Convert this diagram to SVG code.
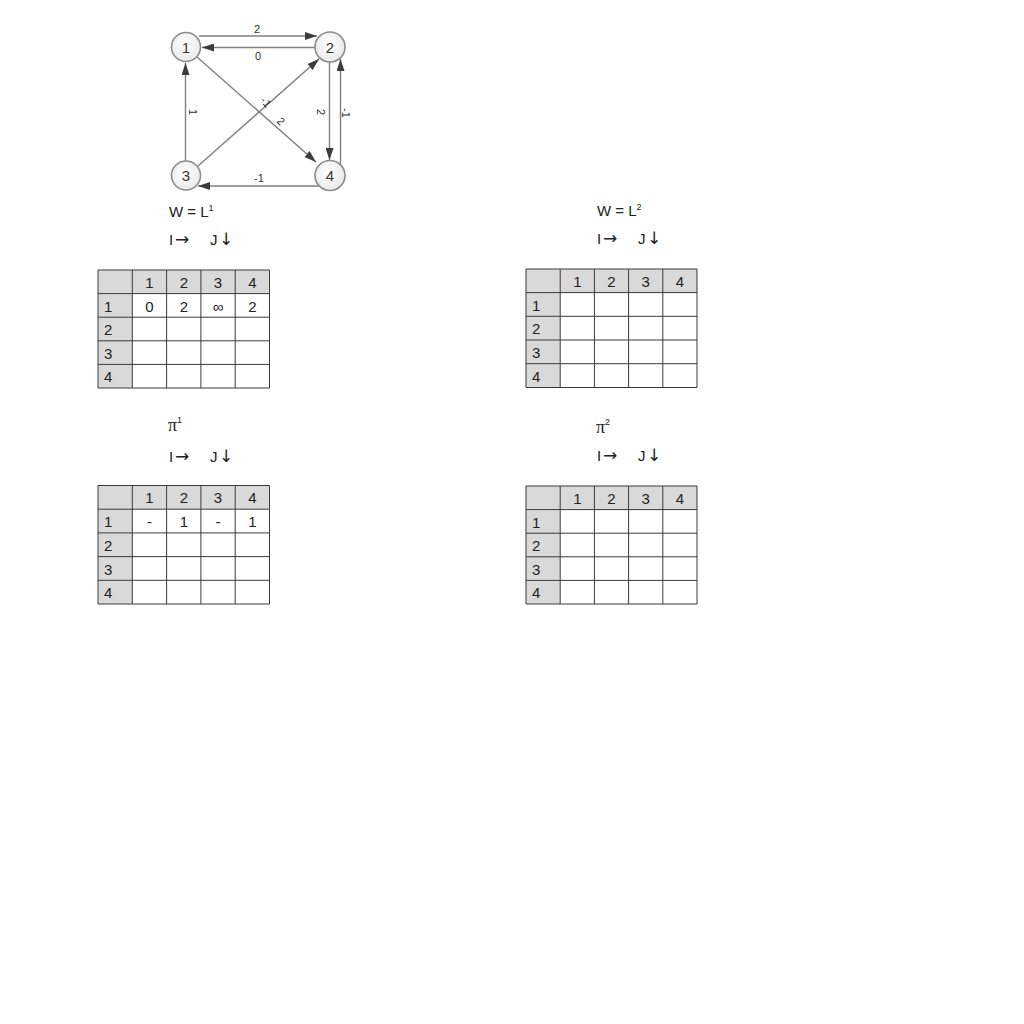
<svg xmlns="http://www.w3.org/2000/svg" width="1024" height="1024" viewBox="0 0 1024 1024">
<defs>
<marker id="ah" viewBox="0 0 12 8" refX="12" refY="4" markerWidth="12" markerHeight="8" markerUnits="userSpaceOnUse" orient="auto">
<path d="M0,0 L12,4 L0,8 Z" fill="#3c3c3c"/>
</marker>
<radialGradient id="ng" cx="0.45" cy="0.4" r="0.7">
<stop offset="0" stop-color="#ffffff"/>
<stop offset="1" stop-color="#e6e6e6"/>
</radialGradient>
</defs>
<style>
.edge{stroke:#808080;stroke-width:1.4;fill:none;marker-end:url(#ah)}
.node circle{fill:url(#ng);stroke:#8c8c8c;stroke-width:1.6}
.nl{font-family:"Liberation Sans",Arial,sans-serif;font-size:15px;fill:#333;text-anchor:middle}
.el{font-family:"Liberation Sans",Arial,sans-serif;font-size:11px;fill:#333;text-anchor:middle}
.lbl{font-family:"Liberation Sans",Arial,sans-serif;font-size:15px;fill:#222}
.ar{font-family:"DejaVu Sans",sans-serif;font-size:17px}
.pi{font-family:"Liberation Serif","Times New Roman",serif;font-size:18px;fill:#222}
.sup{font-size:9px;font-family:"Liberation Sans",Arial,sans-serif}
.hd{fill:#d9d9d9}
.grid{stroke:#3a3a3a;stroke-width:1;fill:none}
.t{font-family:"Liberation Sans",Arial,sans-serif;font-size:15px;fill:#222}
.c{text-anchor:middle}
</style>
<rect width="1024" height="1024" fill="#fff"/>

<g id="connectors">
<line class="edge" x1="199" y1="36" x2="317" y2="36"/>
<line class="edge" x1="316" y1="47.5" x2="202" y2="47.5"/>
<line class="edge" x1="185.5" y1="161" x2="185.5" y2="63"/>
<line class="edge" x1="197" y1="57" x2="316" y2="162"/>
<line class="edge" x1="198" y1="166" x2="319" y2="59"/>
<line class="edge" x1="329.5" y1="62" x2="329.5" y2="160"/>
<line class="edge" x1="340.5" y1="180" x2="340.5" y2="59"/>
<line class="edge" x1="326" y1="186" x2="198" y2="186"/>
<text class="el" x="257" y="33">2</text>
<text class="el" x="258" y="60">0</text>
<text class="el" x="259" y="182">-1</text>
<text class="el" transform="translate(193,112) rotate(90)" y="4">1</text>
<text class="el" transform="translate(321,112) rotate(90)" y="4">2</text>
<text class="el" transform="translate(346,113) rotate(90)" y="4">-1</text>
<text class="el" transform="translate(281,121) rotate(45)" y="4">2</text>
<text class="el" transform="translate(266,102) rotate(50)" y="4">-1</text>
</g>

<g id="node1" class="node"><circle cx="186" cy="47" r="14.5"/><text class="nl" x="186" y="52.5">1</text></g>
<g id="node2" class="node"><circle cx="330" cy="47" r="15"/><text class="nl" x="330" y="52.5">2</text></g>
<g id="node3" class="node"><circle cx="186" cy="175.5" r="14.5"/><text class="nl" x="186" y="181">3</text></g>
<g id="node4" class="node"><circle cx="330" cy="175.5" r="15"/><text class="nl" x="330" y="181">4</text></g>

<g id="label-L1">
<text class="lbl" x="169" y="217">W = L<tspan class="sup" dy="-6">1</tspan></text>
<text class="lbl" y="245"><tspan x="169">I</tspan><tspan class="ar" x="175">→</tspan><tspan x="210">J</tspan><tspan class="ar" x="219">↓</tspan></text>
</g>
<g id="table-L1" transform="translate(98,270)">
<rect class="hd" x="0" y="0" width="171.5" height="23.6"/>
<rect class="hd" x="0" y="0" width="34.3" height="118"/>
<path class="grid" d="M0,0H171.5V118H0Z M34.3,0V118 M68.6,0V118 M102.9,0V118 M137.2,0V118 M0,23.6H171.5 M0,47.2H171.5 M0,70.8H171.5 M0,94.4H171.5"/>
<g class="t c">
<text x="51.5" y="17.5">1</text><text x="85.8" y="17.5">2</text><text x="120" y="17.5">3</text><text x="154.3" y="17.5">4</text>
<text x="51.5" y="41.5">0</text><text x="85.8" y="41.5">2</text><text x="120" y="41.5">∞</text><text x="154.3" y="41.5">2</text>
</g>
<g class="t">
<text x="6" y="41.5">1</text><text x="6" y="65">2</text><text x="6" y="88.5">3</text><text x="6" y="112">4</text>
</g>
</g>

<g id="label-L2">
<text class="lbl" x="597" y="216">W = L<tspan class="sup" dy="-6">2</tspan></text>
<text class="lbl" y="244"><tspan x="597">I</tspan><tspan class="ar" x="603">→</tspan><tspan x="638">J</tspan><tspan class="ar" x="647">↓</tspan></text>
</g>
<g id="table-L2" transform="translate(526,269)">
<rect class="hd" x="0" y="0" width="171" height="23.6"/>
<rect class="hd" x="0" y="0" width="34.2" height="118.5"/>
<path class="grid" d="M0,0H171V118.5H0Z M34.2,0V118.5 M68.4,0V118.5 M102.6,0V118.5 M136.8,0V118.5 M0,23.6H171 M0,47.3H171 M0,71H171 M0,94.7H171"/>
<g class="t c">
<text x="51.3" y="17.5">1</text><text x="85.5" y="17.5">2</text><text x="119.7" y="17.5">3</text><text x="153.9" y="17.5">4</text>
</g>
<g class="t">
<text x="6" y="41.5">1</text><text x="6" y="65">2</text><text x="6" y="89">3</text><text x="6" y="112.5">4</text>
</g>
</g>

<g id="label-pi1">
<text class="pi" x="168" y="431">π<tspan class="sup" dy="-8">1</tspan></text>
<text class="lbl" y="462"><tspan x="169">I</tspan><tspan class="ar" x="175">→</tspan><tspan x="210">J</tspan><tspan class="ar" x="219">↓</tspan></text>
</g>
<g id="table-pi1" transform="translate(98,485.5)">
<rect class="hd" x="0" y="0" width="171.5" height="23.7"/>
<rect class="hd" x="0" y="0" width="34.3" height="118.5"/>
<path class="grid" d="M0,0H171.5V118.5H0Z M34.3,0V118.5 M68.6,0V118.5 M102.9,0V118.5 M137.2,0V118.5 M0,23.7H171.5 M0,47.4H171.5 M0,71.1H171.5 M0,94.8H171.5"/>
<g class="t c">
<text x="51.5" y="17.5">1</text><text x="85.8" y="17.5">2</text><text x="120" y="17.5">3</text><text x="154.3" y="17.5">4</text>
<text x="51.5" y="41.5">-</text><text x="85.8" y="41.5">1</text><text x="120" y="41.5">-</text><text x="154.3" y="41.5">1</text>
</g>
<g class="t">
<text x="6" y="41.5">1</text><text x="6" y="65">2</text><text x="6" y="89">3</text><text x="6" y="112.5">4</text>
</g>
</g>

<g id="label-pi2">
<text class="pi" x="596" y="433">π<tspan class="sup" dy="-8">2</tspan></text>
<text class="lbl" y="461"><tspan x="597">I</tspan><tspan class="ar" x="603">→</tspan><tspan x="638">J</tspan><tspan class="ar" x="647">↓</tspan></text>
</g>
<g id="table-pi2" transform="translate(526,486)">
<rect class="hd" x="0" y="0" width="171" height="23.6"/>
<rect class="hd" x="0" y="0" width="34.2" height="118"/>
<path class="grid" d="M0,0H171V118H0Z M34.2,0V118 M68.4,0V118 M102.6,0V118 M136.8,0V118 M0,23.6H171 M0,47.2H171 M0,70.8H171 M0,94.4H171"/>
<g class="t c">
<text x="51.3" y="17.5">1</text><text x="85.5" y="17.5">2</text><text x="119.7" y="17.5">3</text><text x="153.9" y="17.5">4</text>
</g>
<g class="t">
<text x="6" y="41.5">1</text><text x="6" y="65">2</text><text x="6" y="88.5">3</text><text x="6" y="112">4</text>
</g>
</g>
</svg>
